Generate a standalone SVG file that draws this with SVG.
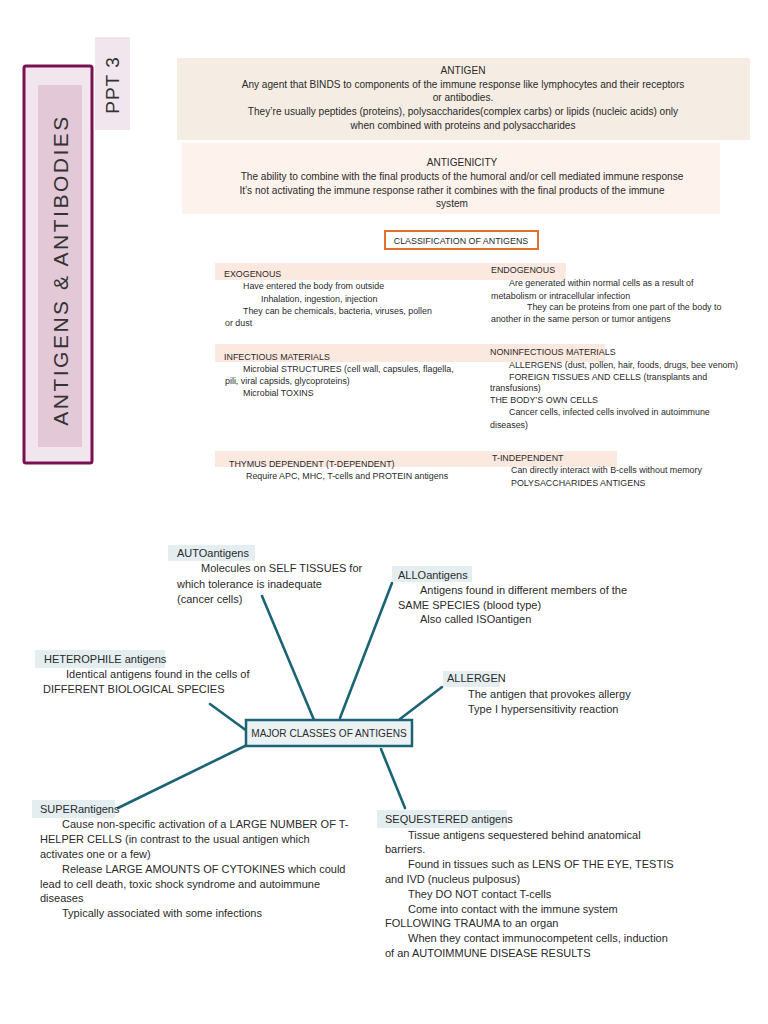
<svg xmlns="http://www.w3.org/2000/svg" width="768" height="1024" viewBox="0 0 768 1024">
<style>
text{font-family:"Liberation Sans",Arial,sans-serif;fill:#2a2a2a}
.t10{font-size:10.1px}
.t9{font-size:8.9px}
.t11{font-size:11px}
.c{text-anchor:middle}
.hl{fill:#fbe8df}
.bl{fill:#e4eef0}
.con{stroke:#1b6475;stroke-width:2.6;fill:none;stroke-linecap:round}
.title{font-size:21px;letter-spacing:2.5px;fill:#333}
</style>
<rect width="768" height="1024" fill="#ffffff"/>

<g id="title">
<rect x="24" y="66" width="68" height="397" rx="2" fill="#f1e5ee" stroke="#7a1252" stroke-width="3"/>
<rect x="38" y="85" width="44" height="362" fill="#e3c9d8"/>
<text class="title c" transform="translate(68,270) rotate(-90)">ANTIGENS &amp; ANTIBODIES</text>
</g>

<g id="ppt">
<rect x="95" y="37" width="35" height="93" fill="#f1e5ee"/>
<text class="title c" style="font-size:19px;letter-spacing:1px" transform="translate(119,85) rotate(-90)">PPT 3</text>
</g>

<g id="antigen">
<rect x="177" y="58" width="573" height="82" fill="#f5ede3"/>
<text class="t10 c" x="463" y="74">ANTIGEN</text>
<text class="t10 c" x="463" y="88">Any agent that BINDS to components of the immune response like lymphocytes and their receptors</text>
<text class="t10 c" x="463" y="101">or antibodies.</text>
<text class="t10 c" x="463" y="115">They’re usually peptides (proteins), polysaccharides(complex carbs) or lipids (nucleic acids) only</text>
<text class="t10 c" x="463" y="129">when combined with proteins and polysaccharides</text>
</g>

<g id="antigenicity">
<rect x="182" y="143" width="538" height="71" fill="#fdf3ec"/>
<text class="t10 c" x="462" y="166">ANTIGENICITY</text>
<text class="t10 c" x="462" y="180">The ability to combine with the final products of the humoral and/or cell mediated immune response</text>
<text class="t10 c" x="452" y="194">It’s not activating the immune response rather it combines with the final products of the immune</text>
<text class="t10 c" x="452" y="207">system</text>
</g>

<g id="classification">
<rect x="385" y="231" width="153" height="18" fill="#ffffff" stroke="#e0702e" stroke-width="2"/>
<text class="t9 c" x="461" y="244">CLASSIFICATION OF ANTIGENS</text>
</g>

<g id="exo-endo">
<rect class="hl" x="215" y="263" width="351" height="17"/>
<text class="t9" x="224" y="277">EXOGENOUS</text>
<text class="t9" x="243" y="289">Have entered the body from outside</text>
<text class="t9" x="261" y="302">Inhalation, ingestion, injection</text>
<text class="t9" x="243" y="314">They can be chemicals, bacteria, viruses, pollen</text>
<text class="t9" x="225" y="326">or dust</text>
<text class="t9" x="491" y="273">ENDOGENOUS</text>
<text class="t9" x="509" y="286">Are generated within normal cells as a result of</text>
<text class="t9" x="491" y="299">metabolism or intracellular infection</text>
<text class="t9" x="527" y="310">They can be proteins from one part of the body to</text>
<text class="t9" x="491" y="322">another in the same person or tumor antigens</text>
</g>

<g id="infectious">
<rect class="hl" x="215" y="344" width="390" height="18"/>
<text class="t9" x="224" y="360">INFECTIOUS MATERIALS</text>
<text class="t9" x="243" y="372">Microbial STRUCTURES (cell wall, capsules, flagella,</text>
<text class="t9" x="225" y="384">pili, viral capsids, glycoproteins)</text>
<text class="t9" x="243" y="396">Microbial TOXINS</text>
<text class="t9" x="490" y="355">NONINFECTIOUS MATERIALS</text>
<text class="t9" x="509" y="368">ALLERGENS (dust, pollen, hair, foods, drugs, bee venom)</text>
<text class="t9" x="509" y="380">FOREIGN TISSUES AND CELLS (transplants and</text>
<text class="t9" x="490" y="391">transfusions)</text>
<text class="t9" x="490" y="403">THE BODY’S OWN CELLS</text>
<text class="t9" x="509" y="415">Cancer cells, infected cells involved in autoimmune</text>
<text class="t9" x="490" y="428">diseases)</text>
</g>

<g id="thymus">
<rect class="hl" x="215" y="451" width="402" height="16"/>
<text class="t9" x="229" y="467">THYMUS DEPENDENT (T-DEPENDENT)</text>
<text class="t9" x="246" y="479">Require APC, MHC, T-cells and PROTEIN antigens</text>
<text class="t9" x="492" y="461">T-INDEPENDENT</text>
<text class="t9" x="511" y="473">Can directly interact with B-cells without memory</text>
<text class="t9" x="511" y="486">POLYSACCHARIDES ANTIGENS</text>
</g>

<g id="connectors">
<line class="con" x1="262" y1="596" x2="314" y2="720"/>
<line class="con" x1="392" y1="583" x2="340" y2="718"/>
<line class="con" x1="210" y1="704" x2="247" y2="731"/>
<line class="con" x1="442" y1="687" x2="400" y2="719"/>
<line class="con" x1="118" y1="808" x2="247" y2="745"/>
<line class="con" x1="381" y1="749" x2="405" y2="808"/>
</g>

<g id="major">
<rect x="246" y="720" width="166" height="26" fill="#eaf2f4" stroke="#1b6475" stroke-width="2.5"/>
<text class="t10 c" x="329" y="737">MAJOR CLASSES OF ANTIGENS</text>
</g>

<g id="auto">
<rect class="bl" x="168" y="545" width="87" height="16"/>
<text class="t11" x="177" y="557">AUTOantigens</text>
<text class="t11" x="201" y="572">Molecules on SELF TISSUES for</text>
<text class="t11" x="177" y="588">which tolerance is inadequate</text>
<text class="t11" x="177" y="603">(cancer cells)</text>
</g>

<g id="allo">
<rect class="bl" x="392" y="566" width="80" height="16"/>
<text class="t11" x="398" y="579">ALLOantigens</text>
<text class="t11" x="420" y="594">Antigens found in different members of the</text>
<text class="t11" x="398" y="609">SAME SPECIES (blood type)</text>
<text class="t11" x="420" y="623">Also called ISOantigen</text>
</g>

<g id="heterophile">
<rect class="bl" x="35" y="650" width="130" height="18"/>
<text class="t11" x="44" y="663">HETEROPHILE antigens</text>
<text class="t11" x="66" y="678">Identical antigens found in the cells of</text>
<text class="t11" x="43" y="693">DIFFERENT BIOLOGICAL SPECIES</text>
</g>

<g id="allergen">
<rect class="bl" x="443" y="671" width="57" height="16"/>
<text class="t11" x="447" y="682">ALLERGEN</text>
<text class="t11" x="468" y="698">The antigen that provokes allergy</text>
<text class="t11" x="468" y="713">Type I hypersensitivity reaction</text>
</g>

<g id="super">
<rect class="bl" x="32" y="800" width="83" height="18"/>
<text class="t11" x="40" y="813">SUPERantigens</text>
<text class="t11" x="62" y="828">Cause non-specific activation of a LARGE NUMBER OF T-</text>
<text class="t11" x="40" y="843">HELPER CELLS (in contrast to the usual antigen which</text>
<text class="t11" x="40" y="858">activates one or a few)</text>
<text class="t11" x="62" y="873">Release LARGE AMOUNTS OF CYTOKINES which could</text>
<text class="t11" x="40" y="888">lead to cell death, toxic shock syndrome and autoimmune</text>
<text class="t11" x="40" y="902">diseases</text>
<text class="t11" x="62" y="917">Typically associated with some infections</text>
</g>

<g id="sequestered">
<rect class="bl" x="377" y="810" width="130" height="18"/>
<text class="t11" x="385" y="823">SEQUESTERED antigens</text>
<text class="t11" x="408" y="839">Tissue antigens sequestered behind anatomical</text>
<text class="t11" x="385" y="853">barriers.</text>
<text class="t11" x="408" y="868">Found in tissues such as LENS OF THE EYE, TESTIS</text>
<text class="t11" x="385" y="883">and IVD (nucleus pulposus)</text>
<text class="t11" x="408" y="898">They DO NOT contact T-cells</text>
<text class="t11" x="408" y="913">Come into contact with the immune system</text>
<text class="t11" x="385" y="927">FOLLOWING TRAUMA to an organ</text>
<text class="t11" x="408" y="942">When they contact immunocompetent cells, induction</text>
<text class="t11" x="385" y="957">of an AUTOIMMUNE DISEASE RESULTS</text>
</g>
</svg>
